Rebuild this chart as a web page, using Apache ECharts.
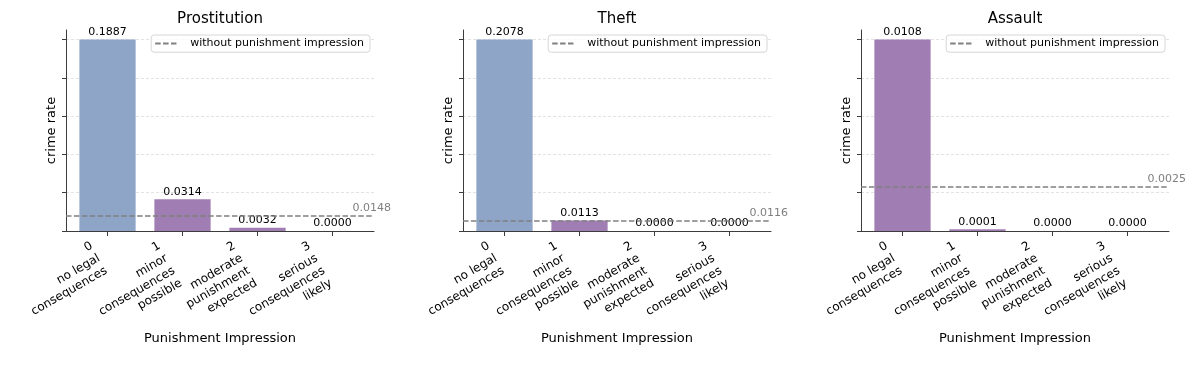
<!DOCTYPE html>
<html>
<head>
<meta charset="utf-8">
<script src="https://cdn.jsdelivr.net/npm/echarts@6/dist/echarts.min.js"></script>
<style>
html,body{margin:0;padding:0;background:#fff;}
#chart{width:1199px;height:373px;}
</style>
</head>
<body>
<div id="chart"></div>
<script>
// ---- data ----
const categories = [
  '0\nno legal\nconsequences',
  '1\nminor\nconsequences\npossible',
  '2\nmoderate\npunishment\nexpected',
  '3\nserious\nconsequences\nlikely'
];
const crimes = ['Prostitution', 'Theft', 'Assault'];
const prostitutionRates = [0.1887, 0.0314, 0.0032, 0.0000];
const theftRates = [0.2078, 0.0113, 0.0000, 0.0000];
const assaultRates = [0.0108, 0.0001, 0.0000, 0.0000];
const baselineRates = [0.0148, 0.0116, 0.0025];
const baselineName = 'without punishment impression';
const xAxisTitle = 'Punishment Impression';
const yAxisTitle = 'crime rate';

// ---- styles ----
const BLUE = '#8ea5c8', PURPLE = '#a07db3', GRAY = '#808080';
const barColorKeys = [
  [BLUE, PURPLE, PURPLE, PURPLE],
  [BLUE, PURPLE, PURPLE, PURPLE],
  [PURPLE, PURPLE, PURPLE, PURPLE]
];
const allRates = [prostitutionRates, theftRates, assaultRates];
const FONT = 'DejaVu Sans';
const gridLefts = [66, 463, 861];
const GRID_W = 308, GRID_TOP = 30, GRID_H = 201;
const BAND_INSET = 4;            // axes margin beyond the outer bars
const AXIS_COLOR = '#3c3c3c';
const LINE_H = 14.4;

function richLabel(text) {
  const lines = text.split('\n');
  const four = lines.length >= 4;
  return lines.map((s, i) => {
    let key = four ? 'r4' : (i === 0 ? 'f3' : 'r3');
    return '{' + key + '|' + s + '}';
  }).join('\n');
}
const tokenBase = {fontSize: 12, fontFamily: FONT, color: '#000', align: 'right'};

const chart = echarts.init(document.getElementById('chart'));
const option = {
  animation: false,
  textStyle: {fontFamily: FONT},
  title: [], grid: [], xAxis: [], yAxis: [], series: [], legend: []
};

crimes.forEach((crime, k) => {
  const rates = allRates[k];
  const m = Math.max(...rates);
  const left = gridLefts[k];
  const yTicks = [0, 1, 2, 3, 4, 5].map(j => m * j / 5);
  const gA = 2 * k, gB = 2 * k + 1;
  option.title.push({
    text: crime, left: left + GRID_W / 2, top: 12, textAlign: 'center', padding: 0,
    textStyle: {fontSize: 15, fontWeight: 'normal', color: '#000', fontFamily: FONT}
  });
  // frame grid (spines, grid lines, reference line)
  option.grid.push({left: left, top: GRID_TOP, width: GRID_W, height: GRID_H, containLabel: false});
  // bar grid (category bands)
  option.grid.push({left: left + BAND_INSET, top: GRID_TOP, width: GRID_W - 2 * BAND_INSET, height: GRID_H, containLabel: false});

  option.xAxis.push({
    type: 'value', gridIndex: gA, min: 0, max: 1,
    name: xAxisTitle, nameLocation: 'middle', nameGap: 101,
    nameTextStyle: {fontSize: 13, color: '#000', fontFamily: FONT},
    axisLine: {show: true, onZero: false, lineStyle: {color: AXIS_COLOR, width: 1}},
    axisTick: {show: false}, axisLabel: {show: false}, splitLine: {show: false}
  });
  option.xAxis.push({
    type: 'category', gridIndex: gB, data: categories, boundaryGap: true,
    axisLine: {show: false},
    axisTick: {show: true, inside: false, length: 5, alignWithLabel: true, interval: 0, lineStyle: {color: AXIS_COLOR}},
    splitLine: {show: false},
    axisLabel: {
      show: true, interval: 0, rotate: 30, margin: -7.6,
      align: 'right', verticalAlign: 'top',
      formatter: v => richLabel(v),
      rich: {
        f3: Object.assign({}, tokenBase, {padding: [3.6, 24.3, 0, 0], lineHeight: LINE_H + 3.6}),
        r3: Object.assign({}, tokenBase, {padding: [0, 24.3, 0, 0], lineHeight: LINE_H}),
        r4: Object.assign({}, tokenBase, {padding: [0, 30.6, 0, 0], lineHeight: LINE_H})
      }
    }
  });
  option.yAxis.push({
    type: 'value', gridIndex: gA, min: 0, max: m * 1.05, interval: m / 5,
    name: yAxisTitle, nameLocation: 'middle', nameGap: 8,
    nameTextStyle: {fontSize: 13, color: '#000', fontFamily: FONT},
    axisLine: {show: true, onZero: false, lineStyle: {color: AXIS_COLOR, width: 1}},
    axisTick: {show: true, inside: false, length: 4, customValues: yTicks, lineStyle: {color: AXIS_COLOR}},
    axisLabel: {show: false},
    splitLine: {show: true, showMinLine: false, showMaxLine: true, lineStyle: {color: '#dcdcdc', type: [3, 2], width: 0.8}}
  });
  option.yAxis.push({
    type: 'value', gridIndex: gB, min: 0, max: m * 1.05, show: false,
    splitLine: {show: false}
  });
  option.series.push({
    type: 'bar', xAxisIndex: gB, yAxisIndex: gB, barWidth: '75%',
    data: rates.map((v, i) => ({value: v, itemStyle: {color: barColorKeys[k][i]}})),
    label: {
      show: true, position: 'top', distance: 2, fontSize: 11, color: '#000', fontFamily: FONT,
      formatter: p => Number(p.value).toFixed(4)
    },
    silent: true
  });
  option.series.push({
    type: 'line', name: baselineName, xAxisIndex: gA, yAxisIndex: gA, data: [],
    symbol: 'none', itemStyle: {color: GRAY},
    lineStyle: {color: GRAY, width: 1.5, type: [5.5, 2.4]},
    markLine: {
      silent: true, symbol: 'none', precision: 4,
      lineStyle: {color: GRAY, width: 1.5, type: [5.5, 2.4]},
      label: {
        show: true, position: 'insideEndTop', distance: [-17, 2],
        color: GRAY, fontSize: 11, fontFamily: FONT,
        formatter: p => Number(p.value).toFixed(4)
      },
      data: [{yAxis: baselineRates[k]}]
    }
  });
  option.legend.push({
    data: [baselineName], selectedMode: false,
    right: 1199 - (left + GRID_W - 4), top: 35,
    itemWidth: 22, itemHeight: 14,
    padding: [3, 6, 3, 3],
    itemStyle: {opacity: 0},
    backgroundColor: 'rgba(255,255,255,0.8)', borderColor: '#d6d6d6', borderWidth: 1, borderRadius: 3,
    textStyle: {fontSize: 11, color: '#000', fontFamily: FONT, padding: [0, 0, 0, 8]}
  });
});

chart.setOption(option);
</script>
</body>
</html>
